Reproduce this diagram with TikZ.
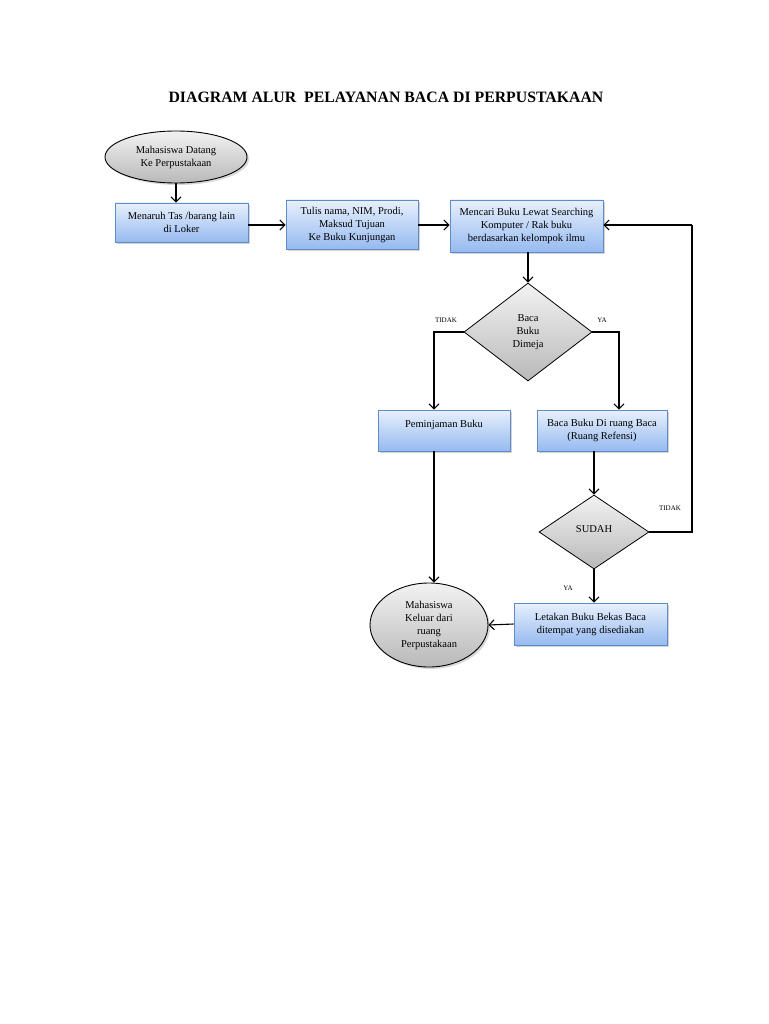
\documentclass[tikz,border=0pt]{standalone}
\usepackage{fontspec}
\setmainfont{Liberation Serif}
\usetikzlibrary{shapes.geometric,arrows.meta,shadows}
\definecolor{boxtop}{RGB}{232,240,252}
\definecolor{boxbot}{RGB}{150,186,240}
\definecolor{boxline}{RGB}{95,140,200}
\begin{document}
\begin{tikzpicture}[x=1pt,y=-1pt,
  every node/.style={font=\fontsize{10.5}{13}\selectfont},
  pbox/.style={rectangle, draw=boxline, line width=0.8pt, top color=boxtop, bottom color=boxbot,
     inner sep=0pt, align=center, drop shadow={opacity=0.35,shadow xshift=2pt,shadow yshift=-2pt}},
  term/.style={ellipse, draw=black, line width=0.9pt, top color=gray!10, bottom color=gray!55,
     inner sep=0pt, align=center, drop shadow={opacity=0.3,shadow xshift=2pt,shadow yshift=-2pt}},
  dec/.style={diamond, draw=black, line width=0.8pt, top color=gray!10, bottom color=gray!55,
     inner sep=0pt, align=center},
  arr/.style={draw=black, line width=1.1pt, -{Straight Barb[length=5pt,width=10pt]}},
  lbl/.style={font=\fontsize{7}{8}\selectfont}
]
\useasboundingbox (0,0) rectangle (768,1024);
\node[font=\fontsize{15.8}{18}\selectfont\bfseries] (title) at (386,97) {DIAGRAM ALUR\ \ PELAYANAN BACA DI PERPUSTAKAAN};

\node[term, minimum width=142, minimum height=52] (start) at (176,157) {Mahasiswa Datang\\Ke Perpustakaan};
\node[pbox, minimum width=133, minimum height=39] (b1) at (181.5,222.5) {Menaruh Tas /barang lain\\di Loker};
\node[pbox, minimum width=132, minimum height=49] (b2) at (352,224.5) {Tulis nama, NIM, Prodi,\\Maksud Tujuan\\Ke Buku Kunjungan};
\node[pbox, minimum width=153, minimum height=52] (b3) at (526.5,226) {Mencari Buku Lewat Searching\\Komputer / Rak buku\\berdasarkan kelompok ilmu};
\node[dec, minimum width=128, minimum height=98] (d1) at (528,332) {Baca\\Buku\\Dimeja};
\node[pbox, minimum width=132, minimum height=41] (b4) at (444,430.5) {Peminjaman Buku\\\mbox{}};
\node[pbox, minimum width=130, minimum height=41] (b5) at (602,430.5) {Baca Buku Di ruang Baca\\(Ruang Refensi)};
\node[dec, minimum width=110, minimum height=74] (d2) at (594,532) {\raisebox{6pt}{SUDAH}};
\node[pbox, minimum width=153, minimum height=42] (b6) at (590.5,624) {Letakan Buku Bekas Baca\\ditempat yang disediakan};
\node[term, minimum width=118, minimum height=84] (end) at (429,625) {Mahasiswa\\Keluar dari\\ruang\\Perpustakaan};

\node[lbl] (t1) at (446,320) {TIDAK};
\node[lbl] (y1) at (602,320) {YA};
\node[lbl] (t2) at (670,508) {TIDAK};
\node[lbl] (y2) at (568,588) {YA};

\coordinate (c1) at (692,532);
\coordinate (c2) at (692,225);

\draw[arr] (start.south) -- (b1.north -| start.south);
\draw[arr] (b1.east |- 0,225) -- (b2.west |- 0,225);
\draw[arr] (b2.east |- 0,225) -- (b3.west |- 0,225);
\draw[arr] (b3.south -| d1.north) -- (d1.north);
\draw[arr] (d1.west) -| (434,0 |- b4.north);
\draw[arr] (d1.east) -| (619,0 |- b5.north);
\draw[arr] (594,0 |- b5.south) -- (d2.north);
\draw[line width=1.1pt] (d2.east) -- (c1) -- (c2);
\draw[arr] (c2) -- (b3.east |- c2);
\draw[arr] (d2.south) -- (594,0 |- b6.north);
\draw[arr] (b6.west) -- (end.east);
\draw[arr] (434,0 |- b4.south) -- (434,0 |- end.north);
\end{tikzpicture}
\end{document}
